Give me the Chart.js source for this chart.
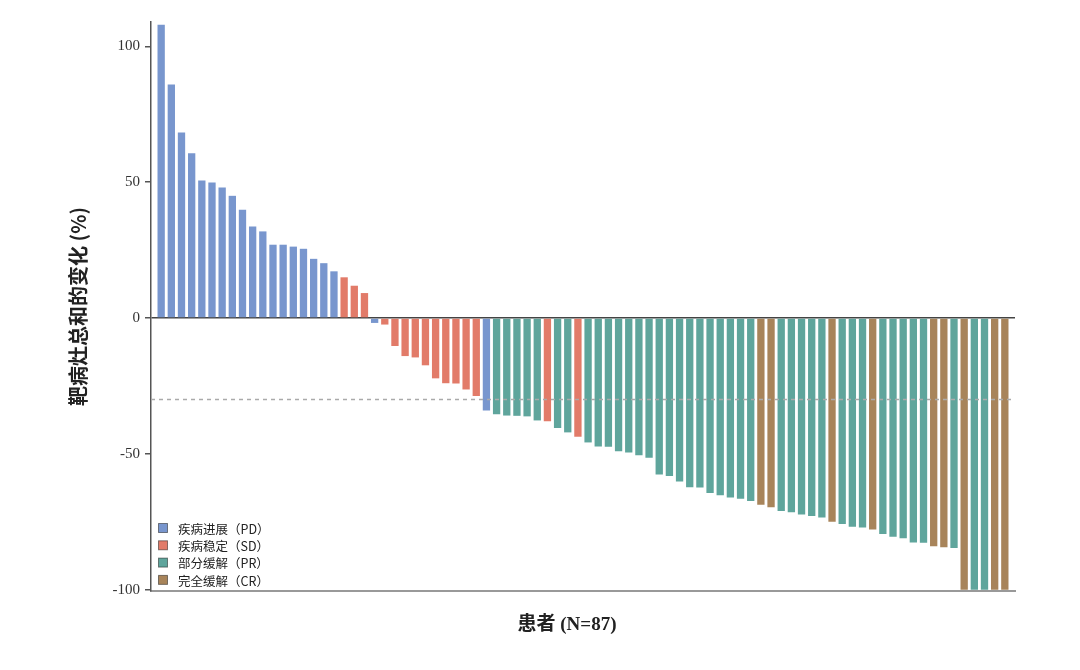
<!DOCTYPE html>
<html>
<head>
<meta charset="utf-8">
<script src="https://cdn.jsdelivr.net/npm/chart.js@4.4.0/dist/chart.umd.min.js"></script>
<style>
  html, body { margin: 0; padding: 0; background: #fff; }
  #wrap { width: 1080px; height: 670px; }
</style>
</head>
<body>
<div id="wrap"><canvas id="waterfall"></canvas></div>
<script>
// best % change of target lesions, one value per patient (sorted)
const changes = [
  108, 86, 68.3, 60.7, 50.6, 49.9, 48.1, 45.0, 39.9, 33.7,
  31.9, 27.0, 27.0, 26.3, 25.5, 21.8, 20.2, 17.2, 15.0, 11.9,
  9.2, -1.8, -2.4, -10.3, -14.0, -14.5, -17.4, -22.2, -24.0, -24.1,
  -26.3, -28.7, -34.0, -35.4, -35.9, -36.0, -36.2, -37.7, -38.0, -40.5,
  -42.1, -43.7, -45.8, -47.3, -47.4, -49.0, -49.5, -50.5, -51.4, -57.6,
  -58.2, -60.2, -62.3, -62.4, -64.4, -65.2, -66.1, -66.5, -67.4, -68.7,
  -69.7, -71.0, -71.5, -72.3, -72.9, -73.4, -75.0, -75.8, -76.8, -77.1,
  -77.9, -79.5, -80.5, -81.1, -82.6, -82.7, -84.0, -84.4, -84.7, -100,
  -100, -100, -100, -100
];
const responses = [
  'PD','PD','PD','PD','PD','PD','PD','PD','PD','PD',
  'PD','PD','PD','PD','PD','PD','PD','PD','SD','SD',
  'SD','PD','SD','SD','SD','SD','SD','SD','SD','SD',
  'SD','SD','PD','PR','PR','PR','PR','PR','SD','PR',
  'PR','SD','PR','PR','PR','PR','PR','PR','PR','PR',
  'PR','PR','PR','PR','PR','PR','PR','PR','PR','CR',
  'CR','PR','PR','PR','PR','PR','CR','PR','PR','PR',
  'CR','PR','PR','PR','PR','PR','CR','CR','PR','CR',
  'PR','PR','CR','CR'
];
const groups = ['PD', 'SD', 'PR', 'CR'];
const groupLabels = ['疾病进展（PD）', '疾病稳定（SD）', '部分缓解（PR）', '完全缓解（CR）'];
const groupColors = ['#7896ce', '#e27b69', '#5fa59c', '#a8845a'];
const yTicks = [-100, -50, 0, 50, 100];
const threshold = -30;

const datasets = groups.map((g, gi) => ({
  label: groupLabels[gi],
  data: changes.map((v, i) => responses[i] === g ? { x: i + 1, y: v } : null).filter(Boolean),
  backgroundColor: groupColors[gi],
  borderWidth: 0,
  grouped: false,
  barPercentage: 0.8,
  categoryPercentage: 0.9
}));

// dashed -30% line, legend and x title
const extras = {
  id: 'extras',
  afterDatasetsDraw(chart) {
    const { ctx, chartArea, scales } = chart;
    const y = scales.y.getPixelForValue(threshold);
    ctx.save();
    ctx.strokeStyle = '#aaaaaa';
    ctx.lineWidth = 1.5;
    ctx.setLineDash([4, 4]);
    ctx.beginPath();
    ctx.moveTo(chartArea.left, y);
    ctx.lineTo(chartArea.right, y);
    ctx.stroke();
    ctx.restore();
  },
  afterDraw(chart) {
    const { ctx, chartArea } = chart;
    ctx.save();
    ctx.font = '12.5px "Noto Sans CJK SC"';
    ctx.textBaseline = 'middle';
    ctx.textAlign = 'left';
    chart.data.datasets.forEach((ds, i) => {
      const cy = chartArea.bottom - 63 + i * 17.3;
      ctx.fillStyle = ds.backgroundColor;
      ctx.fillRect(chartArea.left + 7.5, cy - 4.5, 9, 9);
      ctx.strokeStyle = 'rgba(0,0,0,0.45)';
      ctx.lineWidth = 1;
      ctx.strokeRect(chartArea.left + 7.5, cy - 4.5, 9, 9);
      ctx.fillStyle = '#222';
      ctx.fillText(ds.label, chartArea.left + 27, cy + 1);
    });
    ctx.font = 'bold 19px "Liberation Serif", "Noto Sans CJK SC"';
    ctx.textAlign = 'center';
    ctx.fillStyle = '#222';
    ctx.fillText('患者 (N=87)', 567, 625);
    ctx.restore();
  }
};

new Chart(document.getElementById('waterfall'), {
  type: 'bar',
  data: { datasets },
  options: {
    responsive: true,
    maintainAspectRatio: false,
    animation: false,
    layout: { padding: { left: 0, right: 65, top: 22, bottom: 0 } },
    plugins: {
      legend: { display: false },
      tooltip: { enabled: false }
    },
    scales: {
      x: {
        type: 'linear',
        offset: false,
        min: 0,
        max: 85,
        ticks: { display: false },
        grid: { display: false, offset: false },
        border: { display: true, color: '#999', width: 2 },
        afterFit: s => { s.height = 79; }
      },
      y: {
        min: -100.5,
        max: 109,
        afterBuildTicks: s => { s.ticks = yTicks.map(v => ({ value: v })); },
        ticks: {
          font: { family: '"Liberation Serif"', size: 15 },
          color: '#333',
          padding: 5
        },
        grid: {
          drawOnChartArea: true,
          color: c => (c.tick && c.tick.value === 0) ? '#444' : 'rgba(0,0,0,0)',
          lineWidth: 1.5,
          tickColor: '#555',
          tickLength: 6
        },
        border: { color: '#555', width: 1.5 },
        title: {
          display: true,
          text: '靶病灶总和的变化 (%)',
          font: { family: '"Noto Sans CJK SC"', size: 20, weight: 'bold' },
          color: '#222',
          padding: { top: 66, bottom: 0 }
        },
        afterFit: s => { s.width = 151; }
      }
    }
  },
  plugins: [extras]
});
</script>
</body>
</html>
